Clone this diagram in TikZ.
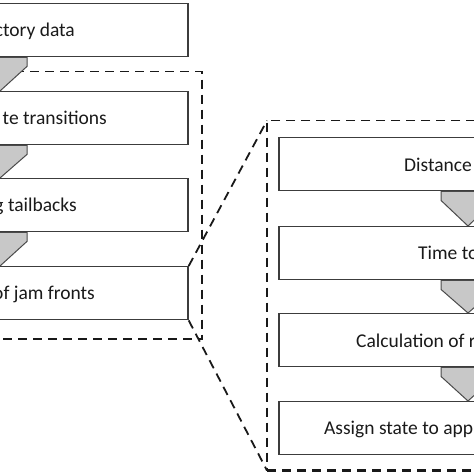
\documentclass[tikz,border=0pt]{standalone}
\usepackage{fontspec}
\setmainfont{Carlito}
\usetikzlibrary{calc}
\definecolor{boxgray}{HTML}{3C3C3C}
\definecolor{chevfill}{HTML}{C8C8C8}
\definecolor{chevedge}{HTML}{4A4A4A}
\definecolor{txt}{HTML}{1A1A1A}
\newcommand{\drawchev}[2]{\draw[chevstyle] ($(#1.south)+(-27,0)$) -- ($(#1.south)+(27,0)$) -- ($(#1.south)+(27,9)$) -- (#2.north) -- ($(#1.south)+(-27,9)$) -- cycle;}
\begin{document}
\begin{tikzpicture}[x=1pt,y=-1pt,
  stepbox/.style={draw=boxgray, line width=1.4pt, fill=white, minimum height=53pt, inner sep=0pt, anchor=north},
  leftbox/.style={stepbox, minimum width=376pt},
  rightbox/.style={stepbox, minimum width=378pt},
  lbl/.style={font=\fontsize{19.5}{23}\selectfont, text=txt, inner sep=0pt},
  dashline/.style={line width=1.8pt, dash pattern=on 9pt off 6pt, black!90},
  chevstyle/.style={draw=chevedge, fill=chevfill, line width=1pt}]
\useasboundingbox (0,0) rectangle (474,474);
\clip (0,0) rectangle (474,474);
\fill[white] (0,0) rectangle (474,474);
% corners of the dashed frames
\coordinate (ftl) at (-30,71.5);
\coordinate (ftr) at (202,71.5);
\coordinate (fbr) at (202,339);
\coordinate (fbl) at (-30,339);
\coordinate (gtl) at (267,120.5);
\coordinate (gtr) at (700,120.5);
\coordinate (gbl) at (267,470.5);
\coordinate (gbr) at (700,470.5);
\draw[dashline] (ftl) -- (ftr) -- (fbr) -- (fbl);
\draw[dashline] (gtr) -- (gtl) -- (gbl);
\draw[dashline, line width=2.6pt] (gbl) -- (gbr);
% left column
\node[leftbox] (l1) at (0,3) {};
\node[leftbox] (l2) at (0,91) {};
\node[leftbox] (l3) at (0,178) {};
\node[leftbox] (l4) at (0,266) {};
% right column
\node[rightbox] (r1) at (468,137) {};
\node[rightbox] (r2) at (468,226) {};
\node[rightbox] (r3) at (468,313) {};
\node[rightbox] (r4) at (468,401) {};
% zoom connectors
\draw[dashline] (l4.north east) -- (gtl);
\draw[dashline] (l4.south east) -- (gbl);
% chevrons
\drawchev{l1}{l2}
\drawchev{l2}{l3}
\drawchev{l3}{l4}
\drawchev{r1}{r2}
\drawchev{r2}{r3}
\drawchev{r3}{r4}
% labels
\node[lbl, anchor=base east] (tl1) at (75,36.5) {ctory data};
\node[lbl, anchor=base east] (tl2) at (107,124.5) {te transitions};
\node[lbl, anchor=base east] (tl3) at (77,211.5) {g tailbacks};
\node[lbl, anchor=base east] (tl4) at (95,299.5) {of jam fronts};
\node[lbl, anchor=base west] (tr1) at (404,171.5) {Distance};
\node[lbl, anchor=base west] (tr2) at (418,259.5) {Time to};
\node[lbl, anchor=base west] (tr3) at (356,347) {Calculation of r};
\node[lbl, anchor=base west] (tr4) at (324,434) {Assign state to app};
\end{tikzpicture}
\end{document}
